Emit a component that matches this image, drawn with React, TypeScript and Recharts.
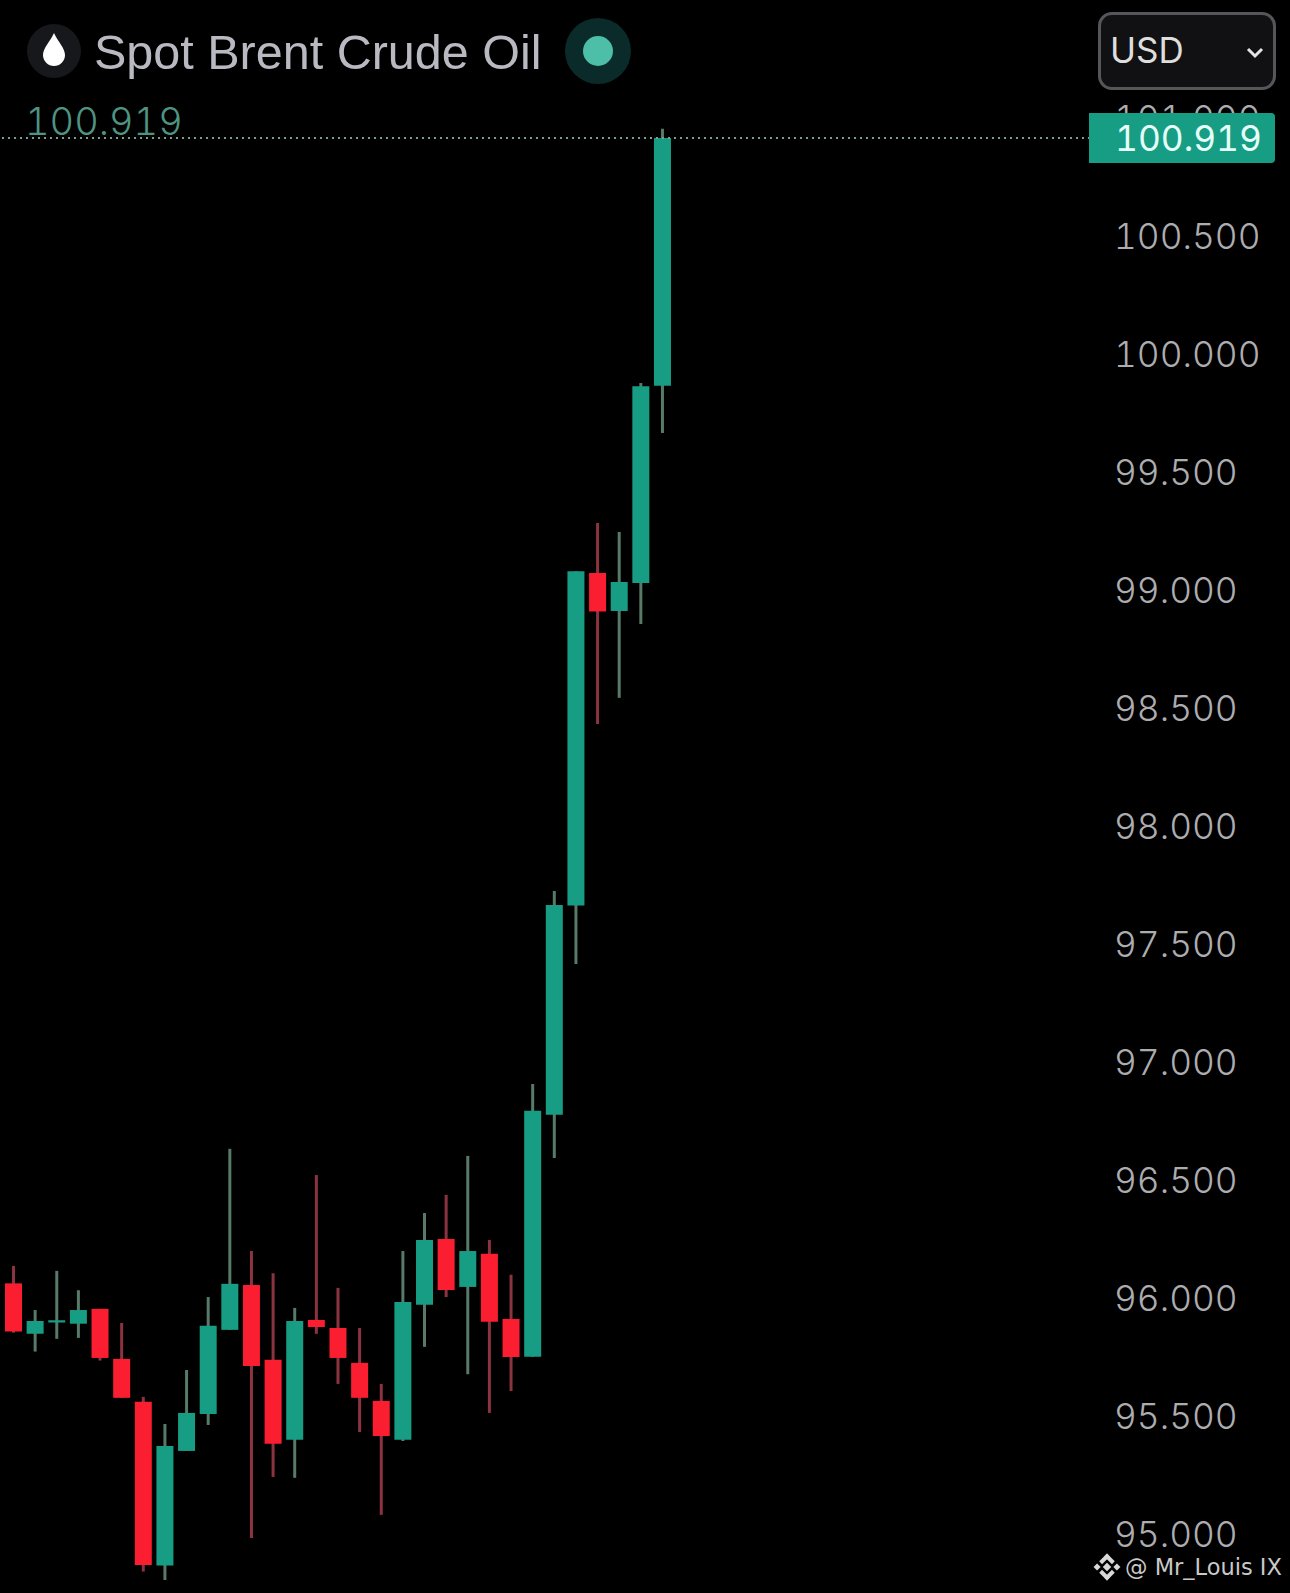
import { BarChart, Bar, XAxis, YAxis, Cell, ReferenceLine } from 'recharts';

const candleIds = [
  'c01', 'c02', 'c03', 'c04', 'c05', 'c06', 'c07', 'c08', 'c09', 'c10', 'c11',
  'c12', 'c13', 'c14', 'c15', 'c16', 'c17', 'c18', 'c19', 'c20', 'c21', 'c22',
  'c23', 'c24', 'c25', 'c26', 'c27', 'c28', 'c29', 'c30', 'c31',
];
const opens = [
  96.066, 95.853, 95.9, 95.895, 95.958, 95.746, 95.564, 94.87, 95.356, 95.513, 95.869,
  96.059, 95.742, 95.403, 95.911, 95.877, 95.729, 95.568, 95.403, 95.975, 96.254, 96.051,
  96.191, 95.915, 95.755, 96.78, 97.667, 99.076, 98.915, 99.034, 99.869,
];
const closes = [
  95.862, 95.907, 95.91, 95.953, 95.75, 95.581, 94.873, 95.377, 95.517, 95.886, 96.064,
  95.716, 95.386, 95.907, 95.881, 95.75, 95.581, 95.419, 95.987, 96.25, 96.038, 96.203,
  95.903, 95.754, 96.797, 97.669, 99.083, 98.913, 99.038, 99.867, 100.919,
];
const highs = [
  96.14, 95.953, 96.119, 96.037, 95.958, 95.898, 95.585, 95.47, 95.699, 96.008, 96.636,
  96.203, 96.109, 95.962, 96.525, 96.047, 95.877, 95.64, 96.203, 96.364, 96.441, 96.606,
  96.25, 96.102, 96.911, 97.729, 99.083, 99.288, 99.25, 99.881, 100.958,
];
const lows = [
  95.857, 95.777, 95.831, 95.835, 95.739, 95.581, 94.845, 94.809, 95.356, 95.466, 95.869,
  94.987, 95.246, 95.242, 95.852, 95.64, 95.436, 95.085, 95.398, 95.797, 96.008, 95.681,
  95.517, 95.61, 95.755, 96.597, 97.419, 98.436, 98.547, 98.86, 99.669,
];
const priceTicks = [95, 95.5, 96, 96.5, 97, 97.5, 98, 98.5, 99, 99.5, 100, 100.5, 101];
const lastPrice = 100.919;

const tableData = candleIds.map((id, i) => ({
  id,
  wick: [lows[i], highs[i]],
  body: [Math.min(opens[i], closes[i]), Math.max(opens[i], closes[i])],
  up: closes[i] >= opens[i],
}));

const UP = '#169d84';
const DOWN = '#fb1d30';
const UP_WICK = '#587a68';
const DOWN_WICK = '#8c3340';
const FONT = 'Inter, Roboto, sans-serif';

function Header() {
  return (
    <>
      <svg width={660} height={110} style={{ position: 'absolute', left: 0, top: 0 }}>
        <circle cx={54} cy={51} r={27} fill="#16181c" />
        <path d="M54 33 C50 42 43 48 43 55 A11 11 0 0 0 65 55 C65 48 58 42 54 33 Z" fill="#fff" />
        <circle cx={598} cy={51} r={33} fill="#0b2b2a" />
        <circle cx={598} cy={51} r={15} fill="#4dbfa8" />
      </svg>
      <div style={{ position: 'absolute', left: 94, top: 24, fontFamily: '"Liberation Sans", sans-serif', fontSize: 48.5, lineHeight: '56px', color: '#b9b9c1', whiteSpace: 'nowrap' }}>
        Spot Brent Crude Oil
      </div>
      <div style={{ position: 'absolute', left: 25, top: 98, fontFamily: FONT, fontSize: 38, fontWeight: 300, fontVariantNumeric: 'tabular-nums', lineHeight: '46px', color: '#4f9482' }}>
        100.919
      </div>
      <div style={{ position: 'absolute', left: 1098, top: 12, width: 178, height: 78, boxSizing: 'border-box', border: '3px solid #55555a', borderRadius: 14, background: '#111113' }} />
      <div style={{ position: 'absolute', left: 1110, top: 29, fontFamily: FONT, fontSize: 35, lineHeight: '42px', color: '#dedede' }}>USD</div>
      <svg width={24} height={16} style={{ position: 'absolute', left: 1244, top: 45 }}>
        <path d="M4 4 L11 11 L18 4" fill="none" stroke="#e4e4e4" strokeWidth={3} />
      </svg>
    </>
  );
}

function PriceTag() {
  return (
    <div style={{ position: 'absolute', left: 1089, top: 113, width: 186, height: 50, background: UP, borderRadius: '0 4px 4px 0', fontFamily: FONT, fontSize: 35.3, fontVariantNumeric: 'tabular-nums', lineHeight: '52px', color: '#e6fff8', boxSizing: 'border-box', paddingLeft: 26 }}>
      100.919
    </div>
  );
}

function Watermark() {
  return (
    <>
      <svg width={30} height={30} style={{ position: 'absolute', left: 1092, top: 1552 }}>
        <g fill="#d8d8d8" transform="rotate(45 15 15)">
          <rect x={12} y={12} width={6} height={6} />
          <rect x={5.5} y={5.5} width={11} height={4} />
          <rect x={5.5} y={5.5} width={4} height={11} />
          <rect x={13.5} y={20.5} width={11} height={4} />
          <rect x={20.5} y={13.5} width={4} height={11} />
          <rect x={19.5} y={5.5} width={5} height={5} />
          <rect x={5.5} y={19.5} width={5} height={5} />
        </g>
      </svg>
      <div style={{ position: 'absolute', left: 1125, top: 1552, fontFamily: '"DejaVu Sans", sans-serif', fontSize: 22.5, lineHeight: '30px', color: '#c9c9c9', whiteSpace: 'nowrap' }}>
        @ Mr_Louis IX
      </div>
    </>
  );
}

export default function App() {
  return (
    <div style={{ position: 'relative', width: 1290, height: 1593, background: '#000', overflow: 'hidden' }}>
      <style>{'body{margin:0;background:#000}'}</style>
      <BarChart width={1290} height={1593} data={tableData} margin={{ top: 0, right: 0, bottom: 0, left: 0 }}>
        <XAxis xAxisId="wicks" dataKey="id" hide padding={{ left: 3, right: 416.4 }} />
        <XAxis xAxisId="bodies" dataKey="id" hide padding={{ left: 3, right: 416.4 }} />
        <YAxis
          orientation="right"
          width={200}
          domain={[94.754, 101.504]}
          allowDataOverflow
          ticks={priceTicks}
          interval={0}
          axisLine={false}
          tickLine={false}
          tickMargin={18}
          tick={{ fontSize: 35.3, fontWeight: 300, fill: '#adadb0', fontFamily: FONT, style: { fontVariantNumeric: 'tabular-nums' } }}
          tickFormatter={(v: number) => v.toFixed(3)}
        />
        <ReferenceLine xAxisId="wicks" y={lastPrice} stroke="#7a9f92" strokeWidth={2} strokeDasharray="2 4" />
        <Bar xAxisId="wicks" dataKey="wick" barSize={3} isAnimationActive={false}>
          {tableData.map((d) => (
            <Cell key={d.id} fill={d.up ? UP_WICK : DOWN_WICK} />
          ))}
        </Bar>
        <Bar xAxisId="bodies" dataKey="body" barSize={17} isAnimationActive={false}>
          {tableData.map((d) => (
            <Cell key={d.id} fill={d.up ? UP : DOWN} />
          ))}
        </Bar>
      </BarChart>
      <Header />
      <PriceTag />
      <Watermark />
    </div>
  );
}
